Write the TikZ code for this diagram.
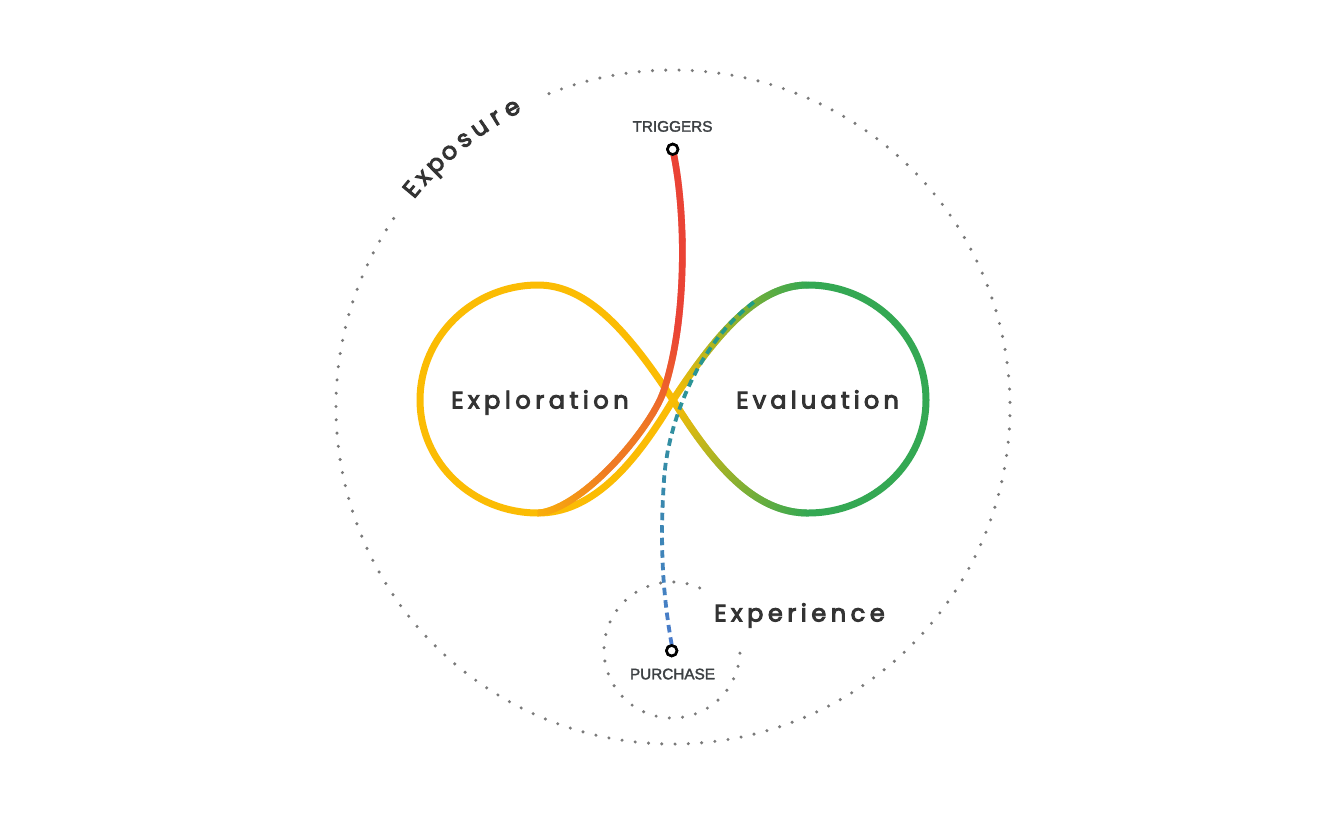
\documentclass[tikz,border=0pt]{standalone}
\usepackage{fontspec}
\usetikzlibrary{decorations.markings}
\newfontfamily\mainlab[LetterSpace=19,FakeBold=4]{Poppins}
\newfontfamily\evallab[LetterSpace=17.5,FakeBold=4]{Poppins}
\newfontfamily\expolab[FakeBold=4]{Poppins}
\newfontfamily\smalllab[FakeBold=2]{Liberation Sans}
\definecolor{yellowc}{HTML}{FBBC04}
\definecolor{greenc}{HTML}{34A853}
\definecolor{redc}{HTML}{EA4335}
\definecolor{orangec}{HTML}{EF7A24}
\definecolor{bluec}{HTML}{4A7CCB}
\definecolor{tealc}{HTML}{1E9E80}
\definecolor{dotgray}{HTML}{7A7A7A}
\definecolor{textc}{HTML}{333333}
\definecolor{smalltextc}{HTML}{3C4043}
\tikzset{
  loopstroke/.style={line width=7pt},
  dotc/.style={draw=dotgray, line width=3.4pt, line cap=round, dash pattern=on 0pt off 13.3pt},
  mainstyle/.style={font=\mainlab\fontsize{24}{28}\selectfont, text=textc, inner sep=0pt},
  evalstyle/.style={font=\evallab\fontsize{24}{28}\selectfont, text=textc, inner sep=0pt},
  expostyle/.style={font=\expolab\fontsize{24}{28}\selectfont, text=textc, inner sep=0pt},
  smallstyle/.style={font=\smalllab\fontsize{15.3}{18}\selectfont, text=smalltextc, inner sep=0pt},
  ringdot/.style={circle, draw=black, line width=2.6pt, fill=white, minimum size=10.5pt, inner sep=0pt},
  gradstroke/.style n args={8}{%
    postaction={decorate, decoration={markings,
      mark=between positions 0 and 1 step 1pt with {
        \pgfmathsetmacro\gf{\pgfkeysvalueof{/pgf/decoration/mark info/distance from start}/\pgfdecoratedpathlength}
        \pgfmathsetmacro\gp{max(0,min(100,100*(\gf-#5)/(#6-#5)))}
        \pgfmathsetmacro\gq{max(0,min(100,100*(\gf-#7)/(#8-#7)))}
        \colorlet{gtmp}{#3!\gp!#2}
        \colorlet{gtmpb}{#4!\gq!gtmp}
        \draw[line width=#1, gtmpb] (-0.8pt,0pt) -- (0.8pt,0pt);
      }}}},
  dashgrad/.style n args={3}{%
    postaction={decorate, decoration={markings,
      mark=between positions 0 and 1 step 12.5pt with {
        \pgfmathsetmacro\gf{\pgfkeysvalueof{/pgf/decoration/mark info/distance from start}/\pgfdecoratedpathlength}
        \pgfmathsetmacro\gp{max(0,min(100,100*\gf))}
        \draw[line width=#3, #2!\gp!#1] (0pt,0pt) -- (7.5pt,0pt);
      }}}}
}
\begin{document}
\begin{tikzpicture}[x=1pt,y=-1pt]
\fill[white] (0,0) rectangle (1343,833);
\useasboundingbox (0,0) rectangle (1343,833);

% key coordinates
\coordinate (O) at (673,407);
\coordinate (O2) at (672,650);
\coordinate (C) at (673,400);
\coordinate (LT) at (538,285);
\coordinate (LL) at (420,400);
\coordinate (LB) at (538,513);
\coordinate (RT) at (808,285);
\coordinate (RR) at (926,400);
\coordinate (RB) at (808,513);
\coordinate (rmid) at (663,393);
\coordinate (dmid) at (664,480);
\coordinate (dend) at (757,300);

% dotted circles
\draw[dotc] ([shift={(-146:337)}]O) arc[start angle=-146, end angle=-473, radius=337];
\draw[dotc] ([shift={(-66:68)}]O2) arc[start angle=-66, end angle=-363, radius=68];

% Exposure along the circle
\foreach \ch/\th [count=\n] in {E/140.2,x/137.4,p/134.4,o/131.3,s/128.0,u/124.7,r/121.5,e/118.3}
  \node[expostyle, rotate=\th-90, anchor=base] (expo\n) at ([shift={(-\th:332)}]O) {\ch};

% left loop (yellow)
\draw[loopstroke, draw=yellowc] (C) .. controls (629,333) and (588,285) .. (LT)
  .. controls (473,285) and (420,337) .. (LL)
  .. controls (420,463) and (473,513) .. (LB)
  .. controls (590,513) and (632,469) .. cycle;

% right loop (green)
\draw[loopstroke, draw=greenc] (RT) .. controls (873,285) and (926,337) .. (RR)
  .. controls (926,463) and (873,513) .. (RB);
\path[gradstroke={7pt}{yellowc}{greenc}{greenc}{0}{1}{2}{3}] (C) .. controls (717,333) and (758,285) .. (RT);
\path[gradstroke={7pt}{yellowc}{greenc}{greenc}{0}{1}{2}{3}] (C) .. controls (716,469) and (756,513) .. (RB);

% ring dots
\node[ringdot] (trig) at (672.7,149.3) {};
\node[ringdot] (purch) at (671.7,650.7) {};

% trigger line (red -> orange -> yellow)
\path[gradstroke={6.6pt}{redc}{orangec}{yellowc}{0.42}{0.68}{0.8}{1.05}]
  (trig.center) .. controls (686,210) and (688,320) .. (rmid)
  .. controls (648,432) and (582,509) .. (LB);

% purchase line (dashed blue -> teal)
\path[dashgrad={bluec}{tealc}{3.8pt}] (purch.center) ++(0,-6) .. controls (662,590) and (660,540) .. (dmid)
  .. controls (668,420) and (700,340) .. (dend);

% redraw the ring dots on top
\node[ringdot] at (trig) {};
\node[ringdot] at (purch) {};

% labels
\node[mainstyle, anchor=base west] (explo) at (451,408.5) {Exploration};
\node[evalstyle, anchor=base west] (evalu) at (736,408.5) {Evaluation};
\node[mainstyle, anchor=base west] (exper) at (714,621.5) {Experience};
\node[smallstyle, anchor=base] (trigl) at (672.5,131.7) {TRIGGERS};
\node[smallstyle, anchor=base] (purl) at (672.5,679.3) {PURCHASE};
\end{tikzpicture}
\end{document}
